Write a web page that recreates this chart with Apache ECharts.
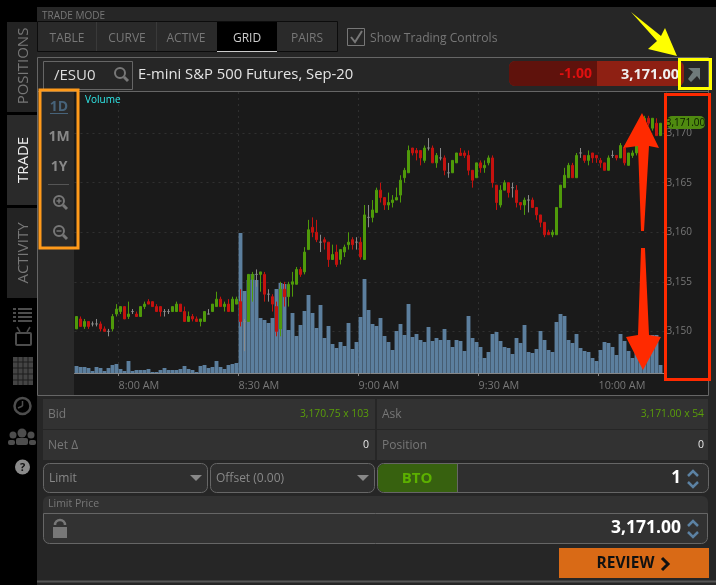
<!DOCTYPE html>
<html>
<head>
<meta charset="utf-8">
<style>
  html, body { margin: 0; padding: 0; background: #000; }
  #chart { width: 716px; height: 585px; }
</style>
<script src="https://cdn.jsdelivr.net/npm/echarts@6/dist/echarts.min.js"></script>
</head>
<body>
<div id="chart"></div>
<script>
// one minute bars of /ESU0, first bar is 7:49
const opens = [3150.25,3151.25,3150.5,3151,3150.75,3150.75,3150.75,3150.25,3150,3150.25,3151.75,3152,3152.5,3151.5,3152,3151.75,3151.5,3152.5,3153,3153,3152.5,3152.5,3152,3152,3152,3152,3152.75,3152,3151,3151.5,3151.25,3151,3151,3151.75,3152,3152.5,3153.25,3152.5,3152.75,3152,3152.75,3153,3151,3151,3155.25,3155.75,3155.75,3155.75,3153.75,3153.5,3152.5,3150.25,3154.25,3153.5,3154.75,3154.75,3156.25,3156,3158.25,3160.5,3160,3159,3159.25,3159,3157.25,3158,3157.25,3158,3158.75,3159.25,3159,3159,3157.25,3161.5,3161.5,3162,3164.25,3163.5,3162.75,3163,3163.25,3163.75,3165.5,3166,3168.5,3168.25,3168.25,3167.25,3168.5,3168.5,3167,3167.5,3167.5,3166,3166,3167,3168,3168,3167.75,3166.25,3165.5,3167,3166.5,3167,3167.5,3164.75,3162.75,3164.25,3165,3164.5,3164.25,3163,3162.75,3163.25,3163.25,3162.5,3161.75,3161,3160,3159.75,3159.75,3162.5,3164.5,3165.5,3166.75,3165.5,3168,3167.75,3167.25,3168,3167.75,3167.25,3167,3166.25,3167.75,3167.75,3167.5,3168.5,3166.75,3167.75,3168,3169.25,3170.5,3171.5,3170.5,3171,3169.75];
const closes = [3151.5,3150.5,3151,3150.5,3150.75,3150.75,3150.25,3150,3150,3151.5,3152.25,3152.5,3151.25,3151.75,3152,3151.5,3152.5,3152.75,3152.75,3152.5,3152,3152,3152,3152,3152.5,3152.75,3152,3151,3151.5,3151.25,3151,3151.25,3152,3151.75,3152.75,3153.25,3152.5,3152.75,3152,3153.25,3153.25,3151,3151,3155.75,3155.75,3155.75,3156,3153.75,3153.75,3152.75,3150,3154.25,3153.5,3154.75,3155,3156.25,3155.75,3158,3160.25,3160,3159.25,3159,3159,3157.25,3157.75,3156.75,3158.25,3158.5,3159,3158.75,3159,3157.5,3161.75,3161.5,3162.25,3164.25,3163.5,3162.75,3163,3163.25,3163.5,3165.25,3166.25,3168.25,3168,3168,3167.5,3168.5,3168.5,3167,3167.75,3167.5,3166.25,3166,3167.25,3168,3167.75,3167.75,3166.25,3165.25,3167,3166.5,3166.75,3167.5,3165,3163,3164.25,3165,3164,3164.5,3163,3162.75,3163.25,3163.25,3162.5,3161.75,3161,3159.75,3159.75,3160,3162.5,3164.75,3165.75,3166.75,3165.5,3167.75,3168,3167.25,3167.75,3167.5,3167.5,3167,3166.25,3167.5,3167.75,3167.5,3168.75,3167,3168,3168,3169.25,3170.5,3171.5,3171,3171.5,3169.75,3171];
const lows = [3150.25,3150.5,3150.25,3150.25,3150.5,3150.5,3150,3150,3149.5,3150,3151.5,3151.75,3151.25,3151.25,3151.75,3151.5,3151.5,3152.25,3152.75,3152.5,3152,3151.5,3151.5,3151.75,3152,3152,3152,3151,3151,3151,3151,3150.5,3151,3151.75,3152,3152.5,3152.5,3152,3152,3152,3152.75,3150.5,3148,3151,3153,3154.5,3154,3153,3153,3152,3149.5,3149.5,3152.5,3152.5,3153.5,3154.75,3155.5,3155.75,3158.25,3159.5,3159,3158,3158.25,3156.5,3157.25,3156.5,3156.75,3157.5,3158.25,3158.25,3158.25,3157.25,3157.25,3160.5,3161,3162,3163,3162.25,3162.25,3162.5,3163.25,3163,3165,3166,3167.75,3167.25,3166.75,3167,3168.25,3167,3166.5,3167.25,3165.75,3165.5,3166,3167,3167.75,3167.5,3165.75,3164.5,3165.5,3166,3166,3166.75,3164.5,3162.25,3162.5,3164.25,3163.5,3163.5,3162.5,3162.25,3161.75,3162,3162.5,3161.25,3160.5,3159.5,3159.75,3159.5,3159.75,3162.5,3164.5,3165.5,3165.5,3165.5,3167.5,3167,3166.75,3167,3167,3166.5,3166.25,3166.25,3167.5,3167.25,3167.5,3166.75,3166.75,3167.5,3167.75,3169,3170.25,3170.75,3170.25,3169.75,3169.75];
const highs = [3151.5,3151.5,3151.25,3151,3151,3151.25,3151,3150.5,3150.25,3151.75,3152.75,3152.5,3152.5,3153,3152.25,3152,3152.5,3153,3153.25,3153,3152.75,3152.5,3152.25,3152.25,3152.5,3153,3152.75,3152.5,3152,3151.75,3151.5,3151.25,3152,3152.25,3152.75,3154,3153.5,3153,3153.25,3153.5,3153.5,3154.25,3151.25,3155.75,3156,3156.25,3156,3156,3154.25,3153.75,3153,3155,3155,3155,3156,3156.5,3156.5,3158.5,3161.25,3161.5,3161.25,3159.75,3159.5,3159,3158.75,3158.75,3158.25,3158.75,3160,3159.5,3159.5,3159.5,3162.75,3162.75,3163.25,3164.5,3165,3163.5,3164,3163.75,3164.5,3165.75,3166.5,3168.75,3168.5,3168.5,3168.25,3168.75,3169.5,3168.75,3168,3168.5,3167.75,3167,3167.25,3168,3168.5,3168.25,3168.25,3166.25,3167,3167.25,3167.25,3167.75,3167.75,3164.75,3164.75,3165.25,3165,3165,3164.75,3163,3163.5,3163.75,3163.5,3162.5,3161.75,3161,3160.25,3160.25,3162.5,3164.75,3166.5,3167,3167,3168,3168.5,3167.75,3168.25,3168,3167.75,3167.5,3167,3167.75,3168.25,3167.75,3169,3168.75,3168,3168.25,3169.5,3170.75,3171.75,3171.75,3171.5,3171.5,3171];
// volume on a relative scale, the tallest bar is 140
const volumes = [7,6,6,5,2,6,5,2,5,8,9,4,2,12,2,3,3,3,4,1,1,3,5,3,3,3,4,7,4,3,1,7,8,5,6,12,6,4,8,9,10,140,82,93,99,93,55,53,50,55,84,90,89,43,60,37,48,62,78,60,45,68,35,47,29,25,31,27,50,24,31,56,94,63,49,47,55,37,31,23,42,49,38,69,36,39,33,31,46,32,35,33,44,33,26,33,32,22,57,35,31,26,15,21,39,41,32,26,25,19,35,30,48,21,20,24,42,33,23,21,51,59,57,33,30,39,25,22,21,15,12,23,31,30,26,18,39,32,22,15,30,25,20,24,38,38,8];
const xTickIndex = [11, 41, 71, 101, 131];
const xTickLabels = ['8:00 AM', '8:30 AM', '9:00 AM', '9:30 AM', '10:00 AM'];
const priceTicks = [3150, 3155, 3160, 3165, 3170];

const categories = [];
for (let i = 0; i < opens.length + 1; i++) {
  categories.push(String(i));
}
const candleData = opens.map((o, i) => [o, closes[i], lows[i], highs[i]]);

const GREY = '#777';
const FONT = '"Open Sans", "Noto Sans", sans-serif';

function box(x, y, width, height, fill, stroke, r, lineWidth, z) {
  return {
    type: 'rect',
    z: z === undefined ? -5 : z,
    shape: { x, y, width, height, r: r || 0 },
    style: { fill: fill || 'transparent', stroke: stroke || null, lineWidth: lineWidth || 1 }
  };
}
function label(x, y, text, color, size, opts) {
  opts = opts || {};
  return {
    type: 'text',
    z: opts.z === undefined ? -4 : opts.z,
    // middle sits a little high in this font
    x: opts.rotation ? x + 1.5 : x,
    y: opts.rotation ? y : y + 1.5,
    rotation: opts.rotation || 0,
    style: {
      text,
      fill: color,
      fontFamily: FONT,
      fontSize: size,
      fontWeight: opts.bold ? 'bold' : 'normal',
      align: opts.align || 'left',
      verticalAlign: 'middle'
    }
  };
}
function poly(points, fill, z, stroke, lineWidth) {
  return {
    type: 'polygon',
    z: z === undefined ? -4 : z,
    shape: { points },
    style: { fill: fill || 'transparent', stroke: stroke || null, lineWidth: lineWidth || 1 }
  };
}
function line(x1, y1, x2, y2, color, lineWidth, z) {
  return {
    type: 'line',
    z: z === undefined ? -4 : z,
    shape: { x1, y1, x2, y2 },
    style: { stroke: color, lineWidth: lineWidth || 1 }
  };
}
function circle(cx, cy, r, fill, stroke, lineWidth, z) {
  return {
    type: 'circle',
    z: z === undefined ? -4 : z,
    shape: { cx, cy, r },
    style: { fill: fill || 'transparent', stroke: stroke || null, lineWidth: lineWidth || 1 }
  };
}
function chevron(points, color, width) {
  return { type: 'polyline', z: -4, shape: { points }, style: { fill: null, stroke: color, lineWidth: width } };
}
function magnifier(cx, cy, sign) {
  const c = '#777';
  const out = [circle(cx, cy, 5, null, c, 2), line(cx + 4, cy + 4, cx + 8, cy + 8, c, 3)];
  if (sign) out.push(line(cx - 2.5, cy, cx + 2.5, cy, c, 1.5));
  if (sign === '+') out.push(line(cx, cy - 2.5, cx, cy + 2.5, c, 1.5));
  return out;
}
function spinner(cx, cy) {
  return [
    chevron([[cx - 5, cy - 3], [cx, cy - 8], [cx + 5, cy - 3]], '#5c82a3', 2.5),
    chevron([[cx - 5, cy + 3], [cx, cy + 8], [cx + 5, cy + 3]], '#5c82a3', 2.5)
  ];
}

const chrome = [
  // panels
  box(37, 7, 679, 578, '#262626', null, 0, 1, -6),
  box(7, 22, 30, 90, '#232323', null, 0, 1, -6),
  box(7, 115, 30, 90, '#2a2a2a', null, 0, 1, -6),
  box(7, 208, 30, 90, '#232323', null, 0, 1, -6),
  label(22, 66, 'POSITIONS', GREY, 15, { rotation: Math.PI / 2, align: 'center' }),
  label(22, 160, 'TRADE', '#eee', 15, { rotation: Math.PI / 2, align: 'center' }),
  label(22, 253, 'ACTIVITY', GREY, 15, { rotation: Math.PI / 2, align: 'center' }),
  // sidebar icons
  ...[309, 313, 317, 321].map(y => line(18, y, 32, y, '#4d4d4d', 2)),
  ...[309, 313, 317, 321].map(y => line(13, y, 16, y, '#4d4d4d', 2)),
  box(16, 333, 15, 12, null, '#4d4d4d', 1, 2),
  line(20, 332, 17, 327, '#4d4d4d', 1.5),
  line(27, 332, 30, 327, '#4d4d4d', 1.5),
  box(13, 357, 20, 28, '#444'),
  ...[362, 368, 374, 380].map(y => line(13, y, 33, y, '#1c1c1c', 1)),
  ...[18, 23, 28].map(x => line(x, 357, x, 385, '#1c1c1c', 1)),
  circle(22.5, 406, 8, null, '#4d4d4d', 2.5),
  line(22.5, 406, 22.5, 401, '#4d4d4d', 1.5),
  line(22.5, 406, 18, 408, '#4d4d4d', 1.5),
  circle(22, 433, 4.5, '#4d4d4d'),
  circle(13, 435, 3.5, '#4d4d4d'),
  circle(31, 435, 3.5, '#4d4d4d'),
  box(16, 438, 12, 7, '#4d4d4d', null, 2),
  box(8, 440, 7, 5, '#4d4d4d', null, 2),
  box(29, 440, 7, 5, '#4d4d4d', null, 2),
  circle(22.5, 467, 7.5, '#8a8a8a'),
  label(22.5, 466, '?', '#111', 11, { bold: true, align: 'center' }),
  // trade mode tabs
  label(42, 15, 'TRADE MODE', GREY, 10),
  box(37.5, 21.5, 300, 30, '#2a2a2a', '#0c0c0c'),
  box(217, 22, 60, 29, '#000'),
  line(217, 51.5, 277, 51.5, '#ccc', 1),
  line(96.5, 22, 96.5, 51, '#3a3a3a'),
  line(156.5, 22, 156.5, 51, '#3a3a3a'),
  label(67, 37, 'TABLE', GREY, 12, { align: 'center' }),
  label(127, 37, 'CURVE', GREY, 12, { align: 'center' }),
  label(186, 37, 'ACTIVE', GREY, 12, { align: 'center' }),
  label(247, 37, 'GRID', '#ccc', 12, { align: 'center' }),
  label(307, 37, 'PAIRS', GREY, 12, { align: 'center' }),
  box(347.5, 28.5, 17, 17, null, GREY),
  chevron([[351, 37], [355, 42], [362, 31]], GREY, 2),
  label(370, 37, 'Show Trading Controls', GREY, 12.1),
  // chart header
  box(37.5, 57.5, 671, 338, '#262626', '#666'),
  box(43.5, 61.5, 89, 28, '#262626', '#666'),
  label(54, 74, '/ESU0', '#ddd', 15),
  ...magnifier(120, 73),
  label(138, 73, 'E-mini S&P 500 Futures, Sep-20', '#e4e4e4', 14.8),
  box(509, 61, 175, 25, '#8e2013', null, 6),
  box(509, 61, 88, 25, '#5f120c', null, [6, 0, 0, 6]),
  label(592, 73, '-1.00', '#e01010', 14, { bold: true, align: 'right' }),
  label(679, 73, '3,171.00', '#f0f0f0', 14.5, { bold: true, align: 'right' }),
  poly([[688, 68], [700, 68], [700, 80], [697, 76], [691, 82], [688, 79], [693, 72]], '#6f7a7a'),
  // chart area
  line(38, 91.5, 708, 91.5, '#666'),
  box(38, 92, 36, 303, '#2a2a2a'),
  box(74, 92, 634, 303, '#1a1a1a'),
  line(38, 395.5, 708, 395.5, '#666'),
  label(59, 106, '1D', '#47637a', 14, { bold: true, align: 'center' }),
  line(50, 113.5, 68, 113.5, '#47637a'),
  label(59, 136, '1M', '#888', 14, { bold: true, align: 'center' }),
  label(59, 166, '1Y', '#888', 14, { bold: true, align: 'center' }),
  line(48, 184.5, 69, 184.5, '#555'),
  ...magnifier(59, 201, '+'),
  ...magnifier(59, 231, '-'),
  // quote rows
  box(43, 399, 332, 30, '#323232'),
  box(43, 430, 332, 30, '#323232'),
  box(377, 399, 331, 30, '#323232'),
  box(377, 430, 331, 30, '#323232'),
  label(48, 413, 'Bid', GREY, 12),
  label(369, 413, '3,170.75 x 103', '#5a9e0a', 10.3, { align: 'right' }),
  label(48, 444, 'Net Δ', GREY, 12),
  label(369, 444, '0', '#e8e8e8', 10.5, { align: 'right' }),
  label(382, 413, 'Ask', GREY, 12),
  label(704, 413, '3,171.00 x 54', '#5a9e0a', 10.3, { align: 'right' }),
  label(382, 444, 'Position', GREY, 12),
  label(704, 444, '0', '#e8e8e8', 10.5, { align: 'right' }),
  // order line
  box(43.5, 463.5, 164, 29, '#2f2f2f', '#666', 6),
  box(210.5, 463.5, 164, 29, '#2f2f2f', '#666', 6),
  box(377.5, 463.5, 331, 29, '#2f2f2f', '#666', 6),
  box(378, 464, 79, 28, '#37610f', null, [6, 0, 0, 6]),
  line(457.5, 464, 457.5, 492, '#666'),
  label(49, 477, 'Limit', '#888', 12),
  poly([[190, 475], [202, 475], [196, 481]], '#888'),
  label(216, 477, 'Offset (0.00)', '#888', 12),
  poly([[357, 475], [369, 475], [363, 481]], '#888'),
  label(417, 477, 'BTO', '#5cb000', 15, { bold: true, align: 'center' }),
  label(681, 477, '1', '#fff', 17, { bold: true, align: 'right' }),
  ...spinner(693, 479),
  // limit price
  box(43, 496, 665, 30, '#323232', null, [6, 6, 0, 0]),
  label(48, 503, 'Limit Price', GREY, 10.5),
  box(43.5, 513.5, 664, 30, '#323232', '#666', [0, 0, 6, 6]),
  box(53, 527, 14, 11, GREY),
  { type: 'arc', z: -4, shape: { cx: 60, cy: 525, r: 5, startAngle: Math.PI, endAngle: Math.PI * 2 }, style: { fill: null, stroke: GREY, lineWidth: 2.5 } },
  label(681, 527, '3,171.00', '#fff', 17.5, { bold: true, align: 'right' }),
  ...spinner(693, 529),
  box(559, 548, 150, 30, '#d96a16'),
  label(625.5, 562, 'REVIEW', '#111', 15.5, { bold: true, align: 'center' }),
  chevron([[662, 558], [668, 564], [662, 570]], '#111', 3),
  line(37, 581.5, 716, 581.5, '#555', 2)
];

// annotations drawn over the chart
const TOP = 50;
const notes = [
  label(85, 98.5, 'Volume', '#2fe8e8', 10, { z: TOP }),
  box(667, 116, 38, 13, '#4f8a10', null, 5, 1, TOP),
  label(685.5, 121.5, '3,171.00', '#0a1a00', 10, { z: TOP + 1, align: 'center' }),
  box(665.5, 94.5, 44, 285, null, '#ff2a00', 0, 3, TOP + 2),
  box(40, 90, 38, 158, null, '#ff9a1a', 0, 3, TOP),
  box(679.5, 59.5, 31, 29, null, '#ffff00', 0, 3, TOP),
  poly([[631, 12], [661, 36], [665, 28], [677, 56], [648, 49], [657, 41]], '#ffff00', TOP),
  poly([[642, 113], [659, 148], [649, 146], [644, 231], [641, 231], [638, 146], [623, 148]], '#ff2a00', TOP),
  poly([[641, 248], [645, 248], [649, 335], [661, 337], [643, 370], [626, 337], [638, 335]], '#ff2a00', TOP)
];

const chart = echarts.init(document.getElementById('chart'));
const plot = { left: 74.5, top: 92, width: 592, height: 281 };
const gridLine = { show: true, lineStyle: { color: '#303030', type: [2, 4], width: 1 } };
const onTick = i => xTickIndex.includes(i);

chart.setOption({
  animation: false,
  backgroundColor: '#000',
  grid: [Object.assign({}, plot), Object.assign({}, plot)],
  graphic: { elements: chrome.concat(notes) },
  xAxis: [
    {
      gridIndex: 0,
      type: 'category',
      data: categories,
      axisLine: { show: false },
      axisTick: { show: false },
      axisLabel: { show: false },
      splitLine: { show: false }
    },
    {
      gridIndex: 1,
      type: 'category',
      data: categories,
      axisLine: { lineStyle: { color: '#888' } },
      axisTick: { show: true, interval: onTick, length: 3, lineStyle: { color: '#888' } },
      axisLabel: {
        interval: onTick,
        color: GREY,
        fontFamily: FONT,
        fontSize: 10.8,
        align: 'left',
        margin: 7,
        padding: [0, 0, 0, -2],
        formatter: (v, i) => xTickLabels[xTickIndex.indexOf(i)] || ''
      },
      splitLine: Object.assign({ interval: onTick }, gridLine)
    }
  ],
  yAxis: [
    {
      gridIndex: 0,
      type: 'value',
      position: 'right',
      min: 3145.8,
      max: 3174.15,
      axisLine: { show: false },
      axisTick: { show: false, customValues: priceTicks },
      axisLabel: {
        customValues: priceTicks,
        color: GREY,
        fontFamily: FONT,
        fontSize: 10,
        margin: 0,
        formatter: v => echarts.format.addCommas(v)
      },
      splitLine: gridLine
    },
    {
      gridIndex: 1,
      type: 'value',
      min: 0,
      max: 281,
      axisLine: { show: false },
      axisTick: { show: false },
      axisLabel: { show: false },
      splitLine: { show: false }
    }
  ],
  series: [
    {
      name: 'Volume',
      type: 'bar',
      xAxisIndex: 1,
      yAxisIndex: 1,
      data: volumes,
      barWidth: 3.85,
      itemStyle: { color: '#5c7f9e' }
    },
    {
      name: '/ESU0',
      type: 'candlestick',
      xAxisIndex: 0,
      yAxisIndex: 0,
      data: candleData,
      barWidth: 2,
      itemStyle: {
        color: '#4f9a0a',
        color0: '#c4120f',
        borderColor: '#4f9a0a',
        borderColor0: '#c4120f',
        borderColorDoji: '#8a8a8a',
        borderWidth: 1
      }
    }
  ]
});
</script>
</body>
</html>
